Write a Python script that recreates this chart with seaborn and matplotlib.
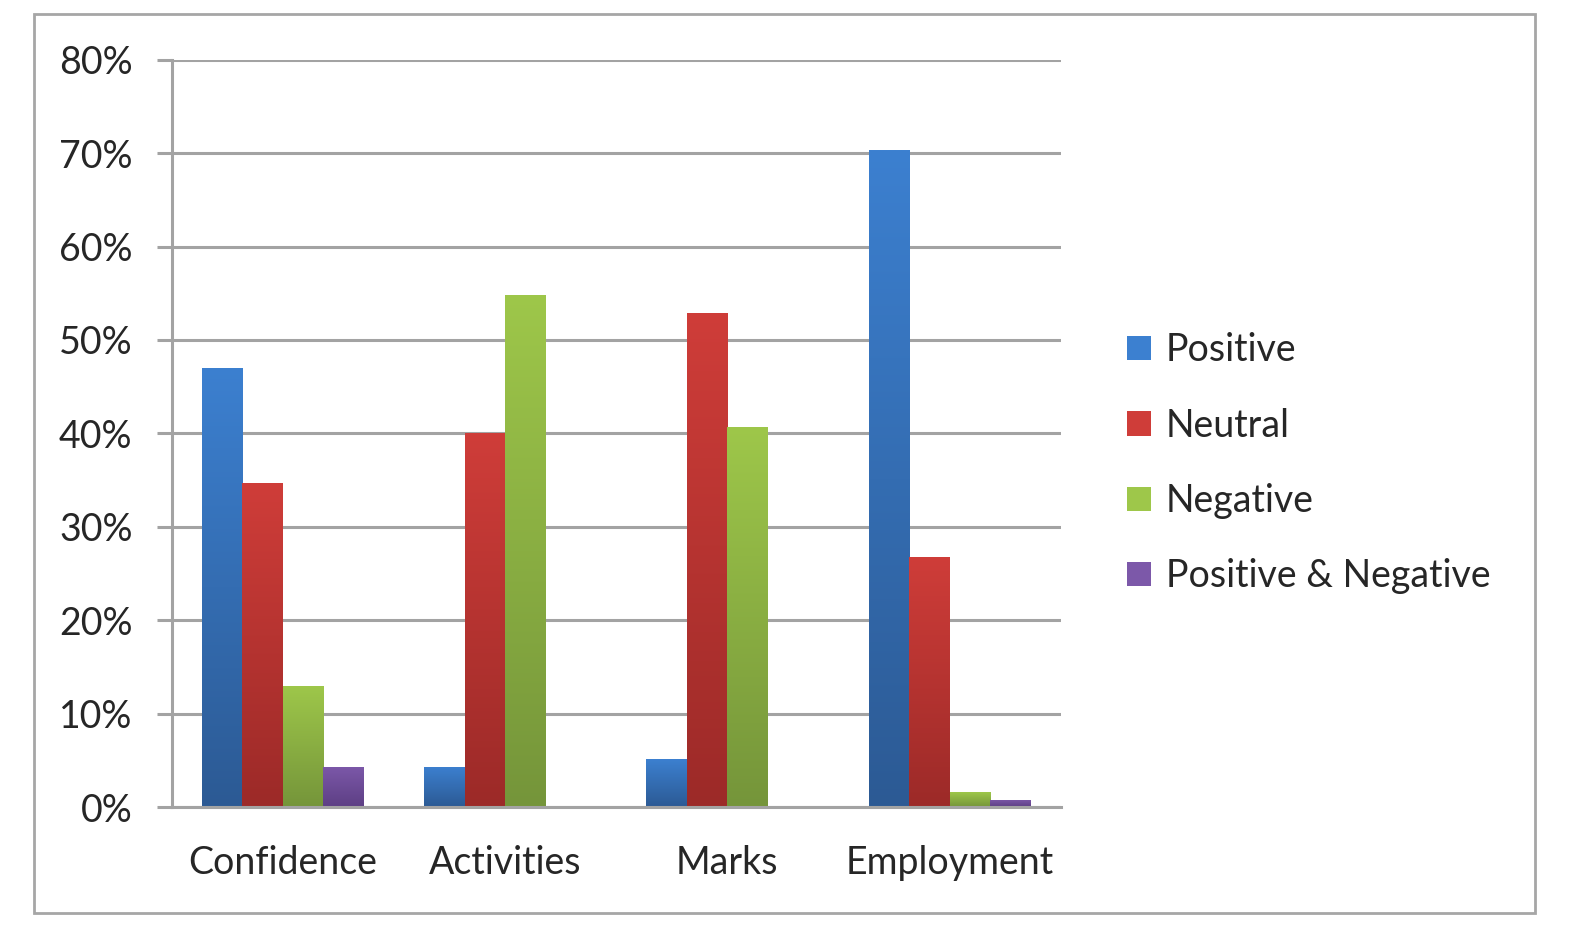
import numpy as np
import pandas as pd
import seaborn as sns
import matplotlib
matplotlib.use("Agg")
import matplotlib.pyplot as plt
from matplotlib.patches import Patch, Rectangle
from matplotlib.colors import LinearSegmentedColormap
from matplotlib.ticker import PercentFormatter

categories = ['Confidence', 'Activities', 'Marks', 'Employment']
responses = ['Positive', 'Neutral', 'Negative', 'Positive & Negative']
positive = [47.0, 4.3, 5.1, 70.3]
neutral = [34.7, 40.0, 52.9, 26.8]
negative = [13.0, 54.8, 40.7, 1.6]
pos_neg = [4.3, 0.0, 0.0, 0.8]

# top / bottom colours of each gradient bar
top_colors = ['#3C80D0', '#CF3D39', '#9EC74A', '#7C58A9']
bottom_colors = ['#2C5A94', '#9C2A28', '#75953A', '#5D3F84']

df = pd.DataFrame({
    'category': np.repeat(categories, len(responses)),
    'response': responses * len(categories),
    'value': np.ravel(np.column_stack([positive, neutral, negative, pos_neg])),
})

sns.set_style('white')
plt.rcParams['font.family'] = ['Lato', 'DejaVu Sans']

fig = plt.figure(figsize=(15.88, 9.32), dpi=100)
ax = fig.add_axes([0.108, 0.134, 0.560, 0.802])

sns.barplot(data=df, x='category', y='value', hue='response', order=categories,
            hue_order=responses, palette=top_colors, width=0.727, saturation=1,
            linewidth=0, ax=ax, legend=False)

# vertical gradient fill for every bar
grad = np.linspace(0, 1, 256).reshape(-1, 1)
for i, cont in enumerate(ax.containers):
    cmap = LinearSegmentedColormap.from_list('g%d' % i, [bottom_colors[i], top_colors[i]])
    for bar in cont:
        h = bar.get_height()
        if h <= 0:
            continue
        x0 = bar.get_x()
        w = bar.get_width()
        im = ax.imshow(grad, cmap=cmap, origin='lower', aspect='auto',
                       extent=[x0, x0 + w, 0, h], zorder=3)
        bar.set_facecolor('none')
        im.set_clip_path(bar)
ax.set_xlim(-0.5, 3.5)
ax.set_ylim(0, 80)

grid_c = '#A3A3A3'
ax.set_yticks(np.arange(0, 81, 10))
ax.yaxis.set_major_formatter(PercentFormatter(decimals=0))
ax.yaxis.grid(True, color=grid_c, linewidth=2.2)
ax.set_axisbelow(True)

for s in ['top', 'right']:
    ax.spines[s].set_visible(False)
for s in ['left', 'bottom']:
    ax.spines[s].set_color(grid_c)
    ax.spines[s].set_linewidth(2.2)
    ax.spines[s].set_zorder(4)

ax.set_xticks(range(len(categories)))
ax.set_xticklabels(categories)
ax.set_xticks(np.arange(-0.5, 4.0, 1.0), minor=True)
ax.tick_params(axis='x', which='major', length=0, pad=27, labelsize=27)
ax.tick_params(axis='x', which='minor', length=11, width=2.2, color=grid_c, direction='out')
ax.tick_params(axis='y', length=11, width=2.2, color=grid_c, direction='out', pad=17,
               labelsize=27, left=True)
ax.set_xlabel('')
ax.set_ylabel('')

handles = [Patch(facecolor=c, edgecolor='none') for c in top_colors]
ax.legend(handles, responses, loc='center left', bbox_to_anchor=(1.037, 0.46),
          frameon=False, fontsize=27, handlelength=0.62, handleheight=0.62,
          handletextpad=0.4, labelspacing=1.05)

fig.patches.append(Rectangle((0.0215, 0.02), 0.945, 0.965, transform=fig.transFigure,
                             fill=False, edgecolor='#A6A6A6', linewidth=2))

fig.savefig('out.png', dpi=100)
